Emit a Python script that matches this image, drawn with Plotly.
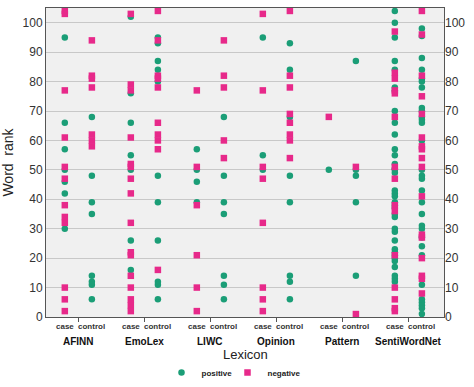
import plotly.graph_objects as go

lexicons = ["AFINN", "EmoLex", "LIWC", "Opinion", "Pattern", "SentiWordNet"]
groups = ["case", "control"]

# word ranks per lexicon/group
pos = {
    ("AFINN", "case"): [95, 66, 57, 50, 46, 42, 30],
    ("AFINN", "control"): [68, 48, 39, 35, 14, 12, 11, 6],
    ("EmoLex", "case"): [102, 76, 66, 55, 50, 26, 16],
    ("EmoLex", "control"): [95, 93, 87, 84, 80, 48, 39, 26, 12, 11, 6],
    ("LIWC", "case"): [57, 50, 46, 39],
    ("LIWC", "control"): [68, 48, 39, 35, 14, 11, 6],
    ("Opinion", "case"): [95, 55, 50],
    ("Opinion", "control"): [93, 84, 68, 48, 39, 14, 12, 6],
    ("Pattern", "case"): [50],
    ("Pattern", "control"): [87, 50, 48, 39, 14],
    ("SentiWordNet", "case"): [104, 100, 95, 87, 84, 78, 77, 70, 66, 62, 57, 55, 52, 50.5, 50, 49,
                               43, 42, 41, 39, 38, 37, 35, 34, 30, 29, 26, 23, 22, 21, 20, 19, 17,
                               14, 13, 12],
    ("SentiWordNet", "control"): [98, 95.5, 88, 84, 81, 80, 78, 71, 70, 68, 67, 66, 60, 50, 48, 47,
                                  43, 39, 35, 31, 30, 27, 24, 21, 11, 6, 5, 4, 3, 1],
}
neg = {
    ("AFINN", "case"): [104, 103, 77, 61, 51, 47, 38, 34, 32, 10, 6, 2],
    ("AFINN", "control"): [94, 82, 81, 78, 62, 60, 58],
    ("EmoLex", "case"): [103, 79, 77, 61, 52, 51, 47, 42, 32, 22, 21, 14, 10, 6, 4, 2],
    ("EmoLex", "control"): [104, 94, 82, 81, 78, 66, 62, 60, 57, 16],
    ("LIWC", "case"): [77, 51, 38, 21, 10, 2],
    ("LIWC", "control"): [94, 82, 78, 60, 54],
    ("Opinion", "case"): [103, 77, 51, 47, 32, 10, 6, 2],
    ("Opinion", "control"): [104, 82, 78, 69, 66, 62, 60, 54],
    ("Pattern", "case"): [68],
    ("Pattern", "control"): [51, 1],
    ("SentiWordNet", "case"): [97, 83, 81, 77, 76, 68, 51, 47, 38, 36, 21, 10, 6, 3, 2],
    ("SentiWordNet", "control"): [104, 96, 82, 75, 69, 61, 58, 57, 54, 51, 41, 28, 27, 20, 14, 13, 8],
}

GREEN = "#1b9e77"
MAGENTA = "#e7298a"
OFFSET = 0.205

def build(d):
    xs, ys = [], []
    for i, lex in enumerate(lexicons):
        for g, sgn in zip(groups, (-1, 1)):
            for v in d[(lex, g)]:
                xs.append(i + sgn * OFFSET)
                ys.append(v)
    return xs, ys

fig = go.Figure()
px_, py_ = build(pos)
nx_, ny_ = build(neg)
fig.add_trace(go.Scatter(x=px_, y=py_, mode="markers", name="<b>positive</b>",
                         marker=dict(symbol="circle", size=6.5, color=GREEN)))
fig.add_trace(go.Scatter(x=nx_, y=ny_, mode="markers", name="<b>negative</b>",
                         marker=dict(symbol="square", size=6.5, color=MAGENTA)))
# invisible spacer entry so the last legend text is not clipped
fig.add_trace(go.Scatter(x=[None], y=[None], mode="markers", name=" ", hoverinfo="skip",
                         marker=dict(color="rgba(0,0,0,0)", size=1)))
# dummy trace to show right axis
fig.add_trace(go.Scatter(x=[None], y=[None], yaxis="y2", showlegend=False, hoverinfo="skip"))

FONT = "Arial, Liberation Sans, sans-serif"
fig.update_layout(
    width=474, height=387,
    margin=dict(l=46, r=30, t=8, b=70, autoexpand=False),
    paper_bgcolor="white", plot_bgcolor="#f0f0f0",
    font=dict(family=FONT, color="#333"),
    showlegend=True,
    legend=dict(orientation="h", x=(196 - 34.5 - 46) / 398.0, xanchor="left", y=-0.180, yanchor="middle",
                font=dict(size=8, color="#222"), entrywidth=21,
                itemwidth=30, tracegroupgap=0, bgcolor="rgba(0,0,0,0)"),
    xaxis=dict(range=[-0.49, 5.54], tickvals=list(range(6)), ticktext=[""] * 6,
               ticks="outside", ticklen=4, tickcolor="#555", showgrid=False, zeroline=False,
               showline=True, linecolor="#555", linewidth=1, mirror=True, automargin=False),
    yaxis=dict(range=[0, 105], tickvals=list(range(0, 101, 10)), ticks="",
               tickfont=dict(size=12, color="#333"),
               showgrid=True, gridcolor="#c8c8c8", gridwidth=1.2, zeroline=False,
               showline=True, linecolor="#555", linewidth=1, mirror=True, automargin=False,
               title=dict(text="Word\u00a0 rank", font=dict(size=14, color="#222"), standoff=6)),
    yaxis2=dict(range=[0, 105], overlaying="y", side="right", anchor="x",
                tickvals=list(range(0, 101, 10)), ticks="",
                tickfont=dict(size=12, color="#333"), showgrid=False, zeroline=False,
                showline=False, automargin=False),
)

for i, lex in enumerate(lexicons):
    for g, sgn in zip(groups, (-1, 1)):
        fig.add_annotation(x=i + sgn * OFFSET, y=-0.031, xref="x", yref="paper", text="<b>%s</b>" % g,
                           showarrow=False, yanchor="middle", font=dict(size=8, color="#333"))
    fig.add_annotation(x=i, y=-0.080, xref="x", yref="paper", text="<b>%s</b>" % lex,
                       showarrow=False, yanchor="middle", font=dict(size=10, color="#111"))
fig.add_annotation(x=0.5, y=-0.120, xref="paper", yref="paper", text="Lexicon", showarrow=False,
                   yanchor="middle", font=dict(size=13, color="#222"))

fig.write_html("out.html", post_script="document.body.style.margin='0';",
               config={"displayModeBar": False})
